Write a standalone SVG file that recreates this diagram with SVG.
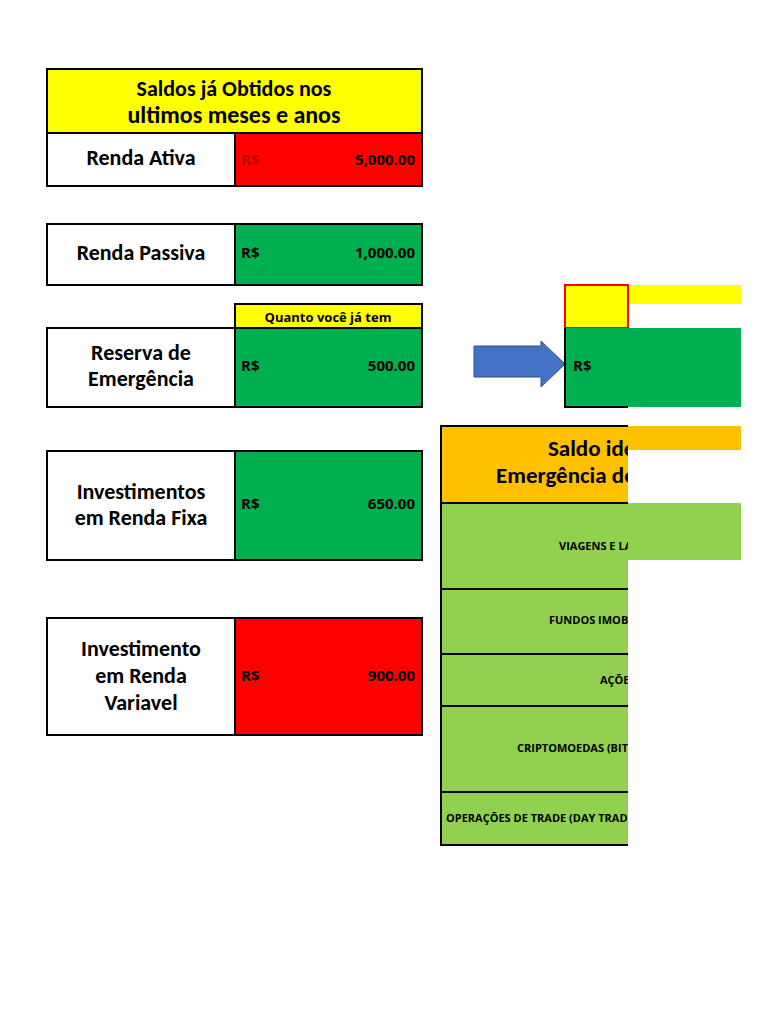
<svg xmlns="http://www.w3.org/2000/svg" width="768" height="1024" viewBox="0 0 768 1024">
<style>
text{font-family:"Open Sans","Noto Sans",sans-serif;font-weight:bold;fill:#000}
.lab{font-family:Calibri,"Noto Sans",sans-serif;font-size:22px;font-weight:600;text-anchor:middle}
.v{font-size:15px}
.b{stroke:#000;stroke-width:2}
.s{font-size:11px;text-anchor:end}
</style>
<defs><clipPath id="c"><rect x="0" y="0" width="628" height="1024"/></clipPath></defs>
<rect width="768" height="1024" fill="#fff"/>
<g id="titulo"><rect x="47" y="69" width="375" height="64" fill="#ffff00" class="b"/>
<text class="lab" x="234" y="96" font-size="24">Saldos já Obtidos nos</text><text class="lab" x="234" y="123" style="font-size:24px">ultimos meses e anos</text></g>
<g id="ativa"><rect x="47" y="133" width="188" height="53" fill="#fff" class="b"/><rect x="235" y="133" width="187" height="53" fill="#ff0000" class="b"/>
<text class="lab" x="141" y="165">Renda Ativa</text><text class="v" x="241" y="165" fill="#c00000" style="fill:#c00000">R$</text><text class="v" x="415" y="165" text-anchor="end">5,000.00</text></g>
<g id="passiva"><rect x="47" y="224" width="188" height="61" fill="#fff" class="b"/><rect x="235" y="224" width="187" height="61" fill="#00b050" class="b"/>
<text class="lab" x="141" y="260">Renda Passiva</text><text class="v" x="241" y="258">R$</text><text class="v" x="415" y="258" text-anchor="end">1,000.00</text></g>
<g id="reserva"><rect x="235" y="304" width="187" height="24" fill="#ffff00" class="b"/><text x="328" y="322" font-size="13" text-anchor="middle">Quanto você já tem</text>
<rect x="47" y="328" width="188" height="79" fill="#fff" class="b"/><rect x="235" y="328" width="187" height="79" fill="#00b050" class="b"/>
<text class="lab" x="141" y="360">Reserva de</text><text class="lab" x="141" y="386">Emergência</text><text class="v" x="241" y="371">R$</text><text class="v" x="415" y="371" text-anchor="end">500.00</text></g>
<g id="fixa"><rect x="47" y="451" width="188" height="109" fill="#fff" class="b"/><rect x="235" y="451" width="187" height="109" fill="#00b050" class="b"/>
<text class="lab" x="141" y="499">Investimentos</text><text class="lab" x="141" y="525">em Renda Fixa</text><text class="v" x="241" y="509">R$</text><text class="v" x="415" y="509" text-anchor="end">650.00</text></g>
<g id="variavel"><rect x="47" y="618" width="188" height="117" fill="#fff" class="b"/><rect x="235" y="618" width="187" height="117" fill="#ff0000" class="b"/>
<text class="lab" x="141" y="656">Investimento</text><text class="lab" x="141" y="683">em Renda</text><text class="lab" x="141" y="710">Variavel</text><text class="v" x="241" y="681">R$</text><text class="v" x="415" y="681" text-anchor="end">900.00</text></g>
<g id="conectores"><polygon points="474,346 541,346 541,341 565,364 541,387 541,377 474,377" fill="#4472c4" stroke="#2f528f" stroke-width="1"/></g>
<g id="ideal">
<rect x="628" y="285" width="113" height="19" fill="#ffff00"/>
<rect x="565" y="285" width="63" height="43" fill="#ffff00" stroke="#ff0000" stroke-width="2"/>
<rect x="565" y="328" width="176" height="79" fill="#00b050"/>
<path d="M565,328V407H628" fill="none" class="b"/>
<text class="v" x="573" y="371">R$</text></g>
<g id="saldo">
<rect x="628" y="426" width="113" height="24" fill="#ffc000"/>
<rect x="628" y="503" width="113" height="57" fill="#92d050"/>
<rect x="441" y="426" width="187" height="77" fill="#ffc000"/>
<rect x="441" y="503" width="187" height="342" fill="#92d050"/>
<path d="M628,426H441V845H628M441,503H628M441,589H628M441,654H628M441,706H628M441,792H628" fill="none" class="b" stroke-width="2.5"/>
<g clip-path="url(#c)">
<text class="lab" x="548" y="456" style="font-size:23px;text-anchor:start">Saldo ideal</text>
<text class="lab" x="496" y="483" style="font-size:23px;text-anchor:start">Emergência de</text>
<text class="s" x="559" y="550" style="text-anchor:start">VIAGENS E LAZER</text>
<text class="s" x="549" y="624" style="text-anchor:start">FUNDOS IMOBILIÁRIOS</text>
<text class="s" x="600" y="684" style="text-anchor:start">AÇÕES</text>
<text class="s" x="517" y="752" style="text-anchor:start">CRIPTOMOEDAS (BITCOIN)</text>
<text class="s" x="446" y="822" style="text-anchor:start">OPERAÇÕES DE TRADE (DAY TRADE)</text>
</g></g>
</svg>
